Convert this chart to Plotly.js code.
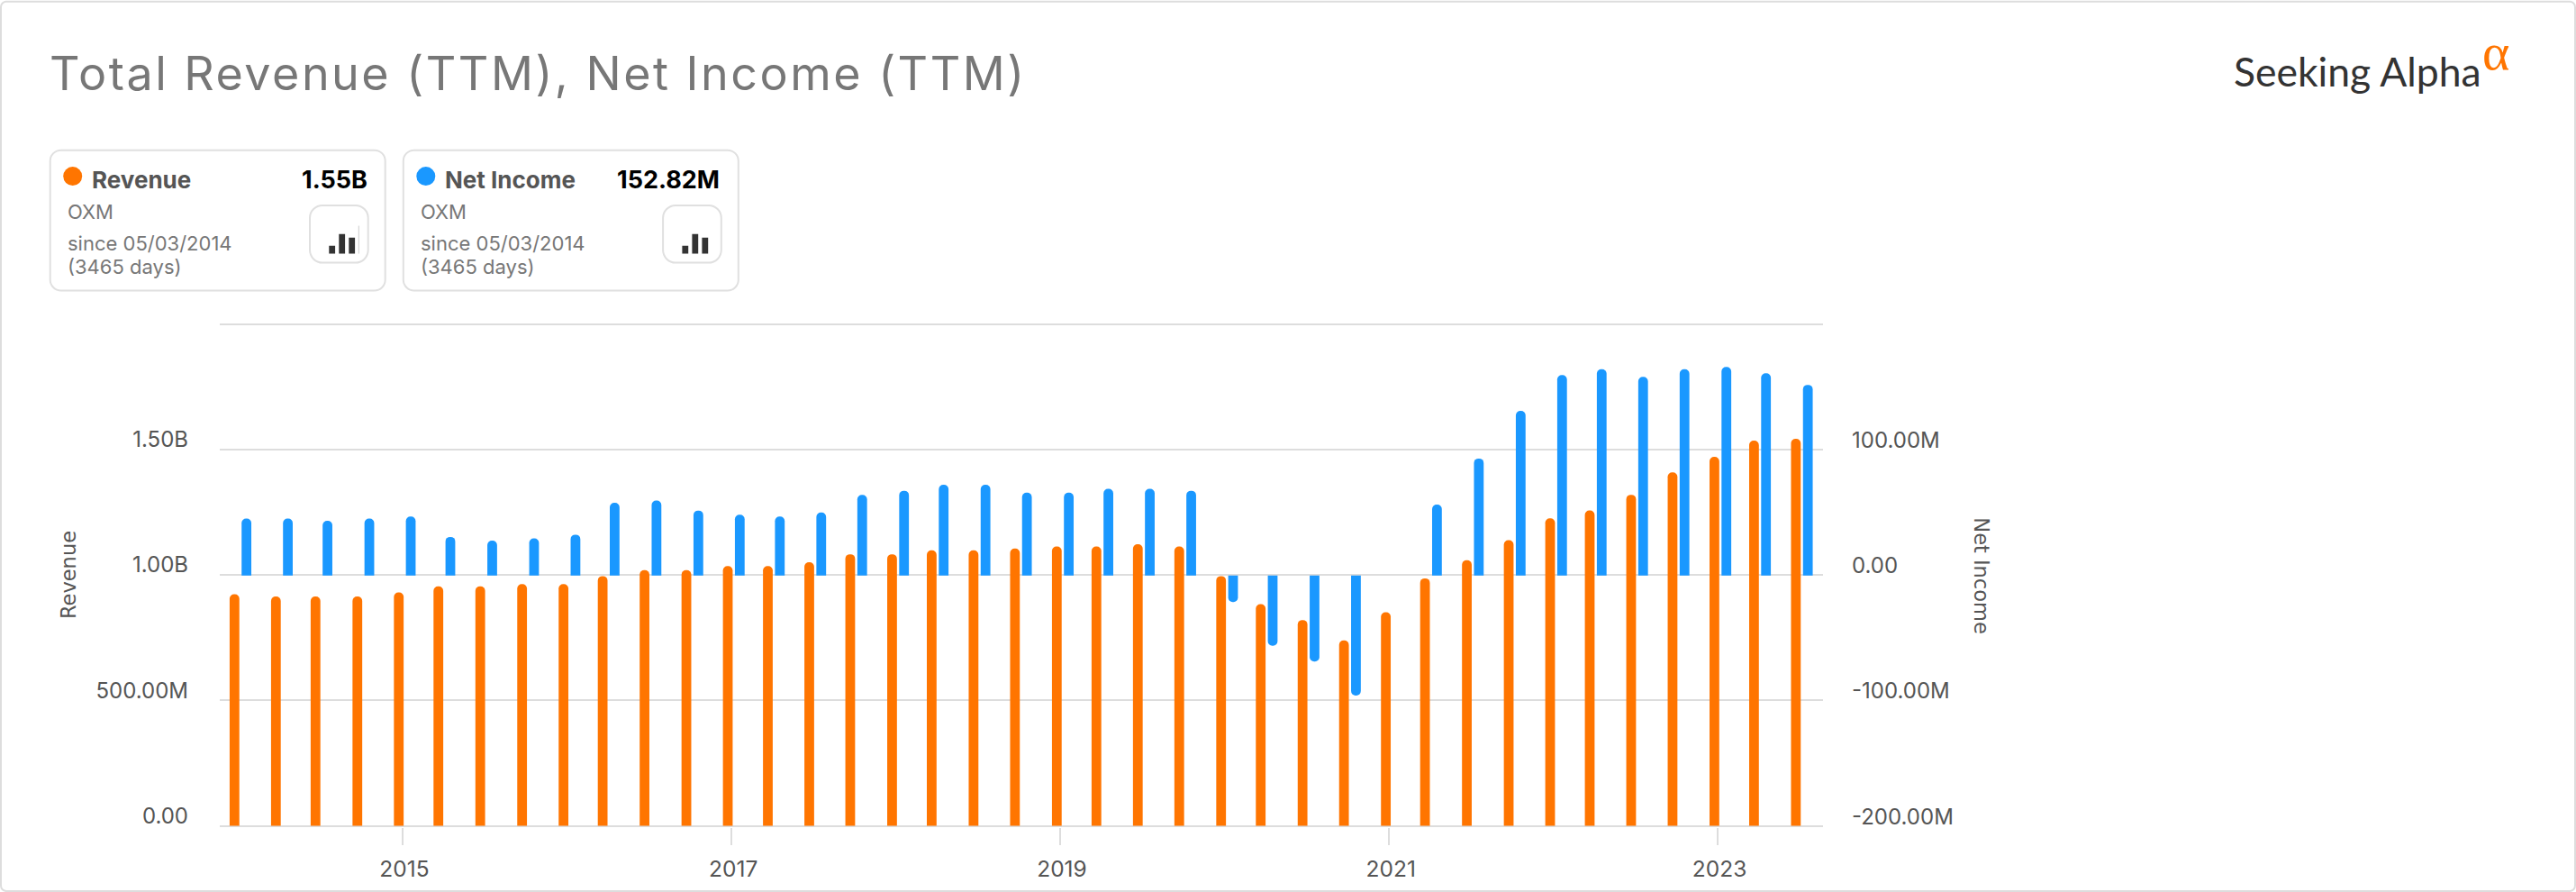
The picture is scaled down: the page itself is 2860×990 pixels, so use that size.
<!DOCTYPE html>
<html><head><meta charset="utf-8">
<script src="https://cdn.plot.ly/plotly-3.0.1.min.js"></script>
<style>
html,body{margin:0;padding:0;background:#fff;}
#chart{width:2860px;height:990px;}
.gtitle{letter-spacing:2.5px;}
</style></head><body><div id="chart"></div>
<script>
const quarters = ["2014-01-06","2014-04-08","2014-07-05","2014-10-06","2015-01-06","2015-04-04","2015-07-06","2015-10-07","2016-01-07","2016-04-03","2016-07-05","2016-10-06","2017-01-06","2017-04-05","2017-07-06","2017-10-05","2018-01-06","2018-04-04","2018-07-06","2018-10-06","2019-01-07","2019-04-05","2019-07-06","2019-10-06","2020-01-07","2020-04-04","2020-07-06","2020-10-06","2021-01-07","2021-04-04","2021-07-06","2021-10-07","2022-01-07","2022-04-05","2022-07-06","2022-10-06","2023-01-07","2023-04-05","2023-07-07"];
const revenue = [923,914,914,914,930,954,954,963,963,995,1019,1019,1035,1035,1050,1082,1082,1098,1098,1105,1113,1113,1122,1113,995,883,820,739,851,986,1058,1138,1225,1257,1319,1408,1470,1535,1542].map(v=>v*1e6);
const netIncome = [45.5,45.5,43.7,45.5,47,30.8,27.8,29.6,32.6,58,59.8,51.8,48.5,47,50.3,64.3,67.6,72.4,72.4,66.1,66.1,69.1,69.1,67.6,-21.2,-55.9,-68.5,-95.7,null,56.5,93.3,131.3,159.8,164.5,158.3,164.5,166.3,161.3,152].map(v=>v===null?null:v*1e6);
const revenueTicks = [0,5e8,1e9,1.5e9,2e9];
const revenueTickText = ["0.00","500.00M","1.00B","1.50B",""];
const incomeTicks = [-2e8,-1e8,0,1e8,2e8];
const incomeTickText = ["-200.00M","-100.00M","0.00","100.00M",""];

const W=2860,H=990,L=244,R=2024,T=357.5,B=917.9;
const FONT='Inter, "Noto Sans", sans-serif';
const px=x=>(x-L)/(R-L), py=y=>(B-y)/(B-T);
const DAY=864e5;
function rr(x0,y0,x1,y1,r){
  const X=px,Y=py;
  const k=0.45*r;
  return `M${X(x0+r)},${Y(y0)} L${X(x1-r)},${Y(y0)} C${X(x1-k)},${Y(y0)} ${X(x1)},${Y(y0+k)} ${X(x1)},${Y(y0+r)} L${X(x1)},${Y(y1-r)} C${X(x1)},${Y(y1-k)} ${X(x1-k)},${Y(y1)} ${X(x1-r)},${Y(y1)} L${X(x0+r)},${Y(y1)} C${X(x0+k)},${Y(y1)} ${X(x0)},${Y(y1-k)} ${X(x0)},${Y(y1-r)} L${X(x0)},${Y(y0+r)} C${X(x0)},${Y(y0+k)} ${X(x0+k)},${Y(y0)} ${X(x0+r)},${Y(y0)} Z`;
}
const shapes=[],annotations=[];
const shp=(path,line,fill)=>shapes.push({type:'path',xref:'paper',yref:'paper',path,line:{color:line||'rgba(0,0,0,0)',width:line?2:0},fillcolor:fill||'rgba(0,0,0,0)',layer:'below'});
const txt=(t,x,y,size,color,anchor,weight,family,angle)=>annotations.push({text:t,xref:'paper',yref:'paper',x:px(x),y:py(y),xanchor:anchor||'left',yanchor:'middle',showarrow:false,borderpad:0,textangle:angle||0,font:{family:family||FONT,size,color,weight:weight||400}});

shp(rr(1,1,W-1,H-1,6),'#dddddd');

function card(x0,dotColor,name,value,valueX){
  shp(rr(x0,166,x0+372,322,12),'#e0e0e0');
  shapes.push({type:'circle',xref:'paper',yref:'paper',x0:px(x0+14.5),x1:px(x0+35.5),y0:py(205.5),y1:py(184.5),fillcolor:dotColor,line:{width:0}});
  txt(name,x0+45,199,26,'#555555','left',700);
  txt(value,valueX,199,27,'#000000','right',700);
  txt('OXM',x0+18,234,22,'#777777');
  txt('since 05/03/2014',x0+18,269,22,'#777777');
  txt('(3465 days)',x0+18,295,22,'#777777');
  shp(rr(x0+288.3,227.3,x0+353,291,14),'#e0e0e0');
  [[309.6,272.3],[320.6,259.3],[331.6,263.3]].forEach(b=>shp(rr(x0+b[0],b[1],x0+b[0]+6.8,281,0.1),null,'#333333'));
}
card(55.7,'#ff7500','Revenue','1.55B',408.7);
card(447.8,'#1a98ff','Net Income','152.82M',799.5);
shapes.push({type:'line',xref:'paper',yref:'paper',x0:px(398.3),x1:px(398.3),y0:py(250),y1:py(281),line:{color:'#cccccc',width:1}});

txt('Seeking Alpha',2479,78,44.5,'#333333','left',400,'Lato, sans-serif');
txt('α',2755,57,58,'#ff7500','left',400,'"Liberation Serif", serif');
txt('Net Income',2200,638,22.5,'#555555','center',400,'"DejaVu Sans", sans-serif',90);

const tickFont={family:FONT,size:24,color:'#555555'};
const barWidth=21.6*DAY;
const data=[
 {type:'bar',name:'Revenue',x:quarters,y:revenue,yaxis:'y',width:barWidth,offset:-24.1*DAY,marker:{color:'#ff7500',cornerradius:5,line:{width:0}}},
 {type:'bar',name:'Net Income',x:quarters,y:netIncome,yaxis:'y2',width:barWidth,offset:2.5*DAY,marker:{color:'#1a98ff',cornerradius:5,line:{width:0}}}
];
const layout={
 width:W,height:H,margin:{l:L,r:W-R,t:T,b:H-B,pad:0,autoexpand:false},
 paper_bgcolor:'#fff',plot_bgcolor:'#fff',showlegend:false,barmode:'overlay',
 title:{text:'Total Revenue (TTM), Net Income (TTM)',font:{family:FONT,size:52,color:'#777777',weight:400},xref:'container',yref:'container',x:55/W,xanchor:'left',y:1-82/H,yanchor:'middle',pad:{t:0,b:0,l:0,r:0}},
 xaxis:{type:'date',range:['2013-11-21','2023-08-23'],tick0:'2015-01-01',dtick:'M24',tickformat:'%Y',ticks:'outside',ticklen:19,tickwidth:2,tickcolor:'#dddddd',ticklabelstandoff:6,ticklabelshift:2,showgrid:false,zeroline:false,showline:false,tickfont:{family:FONT,size:24.5,color:'#555555'}},
 yaxis:{range:[-5.4e6,2.0054e9],tickmode:'array',tickvals:revenueTicks,ticktext:revenueTickText,showgrid:true,gridcolor:'#dddddd',gridwidth:2.4,zeroline:false,showline:false,ticks:'',ticklabelstandoff:34,ticklabelshift:-11,tickfont:tickFont,automargin:false,
   title:{text:'Revenue',font:{family:'"DejaVu Sans", sans-serif',size:22.5,color:'#555555'},standoff:15}},
 yaxis2:{range:[-2.0051e8,2.0165e8],overlaying:'y',side:'right',tickmode:'array',tickvals:incomeTicks,ticktext:incomeTickText,showgrid:false,zeroline:false,showline:false,ticks:'',ticklabelstandoff:31,ticklabelshift:-11,tickfont:tickFont,automargin:false},
 shapes,annotations
};
Plotly.newPlot('chart',data,layout,{displayModeBar:false,responsive:false});
</script></body></html>
